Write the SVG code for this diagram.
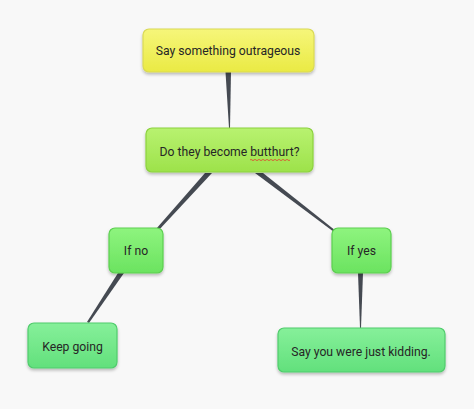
<svg xmlns="http://www.w3.org/2000/svg" width="474" height="409" viewBox="0 0 474 409">
<defs>
<linearGradient id="gY" x1="0" y1="0" x2="0" y2="1"><stop offset="0" stop-color="#f6f67a"/><stop offset="1" stop-color="#eaea44"/></linearGradient>
<linearGradient id="gL" x1="0" y1="0" x2="0" y2="1"><stop offset="0" stop-color="#b8f270"/><stop offset="1" stop-color="#9de24a"/></linearGradient>
<linearGradient id="gG" x1="0" y1="0" x2="0" y2="1"><stop offset="0" stop-color="#8ef47e"/><stop offset="1" stop-color="#6be360"/></linearGradient>
<linearGradient id="gM" x1="0" y1="0" x2="0" y2="1"><stop offset="0" stop-color="#86f09a"/><stop offset="1" stop-color="#62e07c"/></linearGradient>
<filter id="sh" x="-20%" y="-30%" width="140%" height="170%"><feDropShadow dx="0" dy="2" stdDeviation="1.6" flood-color="#000" flood-opacity="0.25"/></filter>
</defs>
<style>
text{font-family:Roboto,"Liberation Sans",sans-serif;font-size:12.2px;fill:#262626;text-anchor:middle;dominant-baseline:central}
.box{stroke-width:1.2;filter:url(#sh)}
.edge{fill:#454a52}
</style>
<rect x="0" y="0" width="474" height="409" fill="#f8f8f8"/>
<g id="connectors">
<polygon class="edge" points="225.5,72 231,72 230,128 229,128"/>
<polygon class="edge" points="205,173 212,173 158,231 156,229"/>
<polygon class="edge" points="255,173 263,173 336,231 334,232"/>
<polygon class="edge" points="118,273 124,273 89,323 87,322"/>
<polygon class="edge" points="358,273 363,273 361,328 360,328"/>
</g>
<g id="n1"><rect class="box" x="143" y="29" width="171" height="43" rx="6" fill="url(#gY)" stroke="#d9d955"/><text x="228" y="51">Say something outrageous</text></g>
<g id="n2"><rect class="box" x="146" y="128" width="167" height="44" rx="6" fill="url(#gL)" stroke="#8cd23e"/><text x="229.5" y="152">Do they become butthurt?</text><path d="M250,160 q1,-1.2 2,0 t2,0 t2,0 t2,0 t2,0 t2,0 t2,0 t2,0 t2,0 t2,0 t2,0 t2,0 t2,0 t2,0 t2,0 t2,0 t2,0 t2,0 t2,0 t2,0" fill="none" stroke="#e0442c" stroke-width="0.8"/></g>
<g id="n3"><rect class="box" x="109" y="228" width="54" height="45" rx="6" fill="url(#gG)" stroke="#5ccf50"/><text x="136" y="251">If no</text></g>
<g id="n4"><rect class="box" x="332" y="228" width="59" height="45" rx="6" fill="url(#gG)" stroke="#5ccf50"/><text x="361.5" y="251">If yes</text></g>
<g id="n5"><rect class="box" x="28" y="323" width="89" height="45" rx="6" fill="url(#gM)" stroke="#50cc6c"/><text x="72.5" y="347">Keep going</text></g>
<g id="n6"><rect class="box" x="278" y="328" width="167" height="44" rx="6" fill="url(#gM)" stroke="#50cc6c"/><text x="361" y="352">Say you were just kidding.</text></g>
</svg>
